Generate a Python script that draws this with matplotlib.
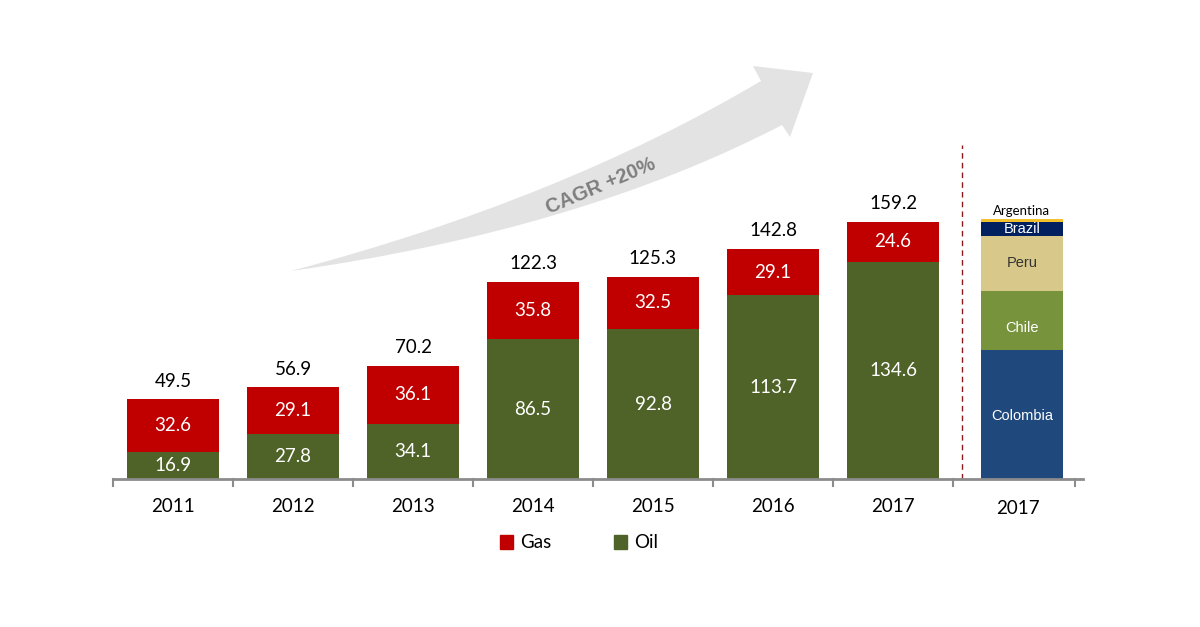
import matplotlib
matplotlib.use("Agg")
import matplotlib.pyplot as plt
from matplotlib.patches import PathPatch, Rectangle
from matplotlib.path import Path
import numpy as np

# Production by year (split into oil and gas)
years = ["2011", "2012", "2013", "2014", "2015", "2016", "2017"]
oil = [16.9, 27.8, 34.1, 86.5, 92.8, 113.7, 134.6]
gas = [32.6, 29.1, 36.1, 35.8, 32.5, 29.1, 24.6]
totals = [49.5, 56.9, 70.2, 122.3, 125.3, 142.8, 159.2]

# 2017 split by country (bottom to top)
countries = ["Colombia", "Chile", "Peru", "Brazil", "Argentina"]
country_vals = [80.0, 36.6, 34.0, 8.9, 1.5]
country_year = "2017"

GAS_COLOR = "#C00000"
OIL_COLOR = "#4F6228"
COUNTRY_COLORS = ["#1F497D", "#77933C", "#D8C98A", "#002060", "#F2C12E"]
COUNTRY_TEXT = ["white", "white", "#333333", "white", None]

NUM_FONT = "Lato"
ARIAL = "Liberation Sans"
FS = 13.5

W, H = 1200, 627
fig = plt.figure(figsize=(W / 100, H / 100), dpi=100)

# axes placed so that x=0 is the first bar centre and y=0 the baseline
px_left, px_right = 113, 1083
px_base, px_top = 479, 30
ax = fig.add_axes([px_left / W, 1 - px_base / H,
                   (px_right - px_left) / W, (px_base - px_top) / H])
slot = 120.0
x0 = (px_left - 173) / slot
x1 = (px_right - 173) / slot
scale = 1.614  # px per unit
ax.set_xlim(x0, x1)
ax.set_ylim(0, (px_base - px_top) / scale)
ax.axis("off")

x = np.arange(len(years))
bw = 92 / slot
ax.bar(x, oil, width=bw, color=OIL_COLOR, zorder=2)
ax.bar(x, gas, width=bw, bottom=oil, color=GAS_COLOR, zorder=2)

for xi, o, g, t in zip(x, oil, gas, totals):
    ax.text(xi, o / 2, f"{o:.1f}", ha="center", va="center", color="white",
            fontsize=FS, family=NUM_FONT, zorder=3)
    ax.text(xi, o + g / 2, f"{g:.1f}", ha="center", va="center", color="white",
            fontsize=FS, family=NUM_FONT, zorder=3)
    ax.annotate(f"{t:.1f}", (xi, t), xytext=(0, 13), textcoords="offset points",
                ha="center", va="center", fontsize=FS, family=NUM_FONT, color="black")

# country breakdown bar
cx = (1022 - 173) / slot
cw = 82 / slot
label_shift = {"Chile": -5, "Colombia": -1}
bottom = 0
for name, val, col, tcol in zip(countries, country_vals, COUNTRY_COLORS, COUNTRY_TEXT):
    ax.bar(cx, val, width=cw, bottom=bottom, color=col, zorder=2)
    if tcol is not None:
        ax.text(cx, bottom + val / 2 + label_shift.get(name, 0), name, ha="center",
                va="center", color=tcol, fontsize=10.5, family=ARIAL, zorder=3)
    else:
        ax.annotate(name, (cx, bottom + val), xytext=(0, 6), textcoords="offset points",
                    ha="center", va="center", fontsize=9.5, family=NUM_FONT, color="black")
    bottom += val

# separator
sep_x = (962 - 173) / slot
ax.plot([sep_x, sep_x], [0, (px_base - 145) / scale], color="#8B1A1A",
        lw=1.0, ls=(0, (4, 3)), zorder=1)

# axis line + ticks
ax.plot([x0, x1], [0, 0], color="#8C8C8C", lw=2, zorder=4, clip_on=False)
tick_pos = list(np.arange(len(years) + 1) - 0.5) + [(1075 - 173) / slot]
for tp in tick_pos:
    ax.plot([tp, tp], [0, -7 / scale], color="#8C8C8C", lw=1.5, clip_on=False)

for xi, yr in zip(x, years):
    ax.text(xi, -27 / scale, yr, ha="center", va="center", fontsize=FS,
            family=NUM_FONT, color="black")
ax.text(cx - 4 / slot, -29 / scale, country_year, ha="center", va="center",
        fontsize=FS, family=NUM_FONT, color="black")


# growth arrow (decorative, figure pixel coords)
def fp(px, py):
    return (px / W, 1 - py / H)


verts = [fp(291, 271), fp(560, 200), fp(761, 81),
         fp(753, 66), fp(813, 73), fp(790, 137), fp(782, 125),
         fp(580, 230), fp(291, 271), fp(291, 271)]
codes = [Path.MOVETO, Path.CURVE3, Path.CURVE3,
         Path.LINETO, Path.LINETO, Path.LINETO, Path.LINETO,
         Path.CURVE3, Path.CURVE3, Path.CLOSEPOLY]
arrow = PathPatch(Path(verts, codes), transform=fig.transFigure,
                  facecolor="#E3E3E3", edgecolor="none", zorder=0)
fig.patches.append(arrow)
fig.text(601 / W, 1 - 186 / H, "CAGR +20%", rotation=23, ha="center", va="center",
         fontsize=14.5, fontweight="bold", color="#7F7F7F", family=ARIAL)

# legend
handles = [Rectangle((0, 0), 1, 1, color=GAS_COLOR), Rectangle((0, 0), 1, 1, color=OIL_COLOR)]
fig.legend(handles, ["Gas", "Oil"], loc="center", bbox_to_anchor=(579 / W, 1 - 543 / H),
           ncol=2, frameon=False, handlelength=0.7, handleheight=0.7,
           handletextpad=0.4, columnspacing=3.3,
           prop={"family": NUM_FONT, "size": FS})

fig.savefig("out.png", dpi=100)
